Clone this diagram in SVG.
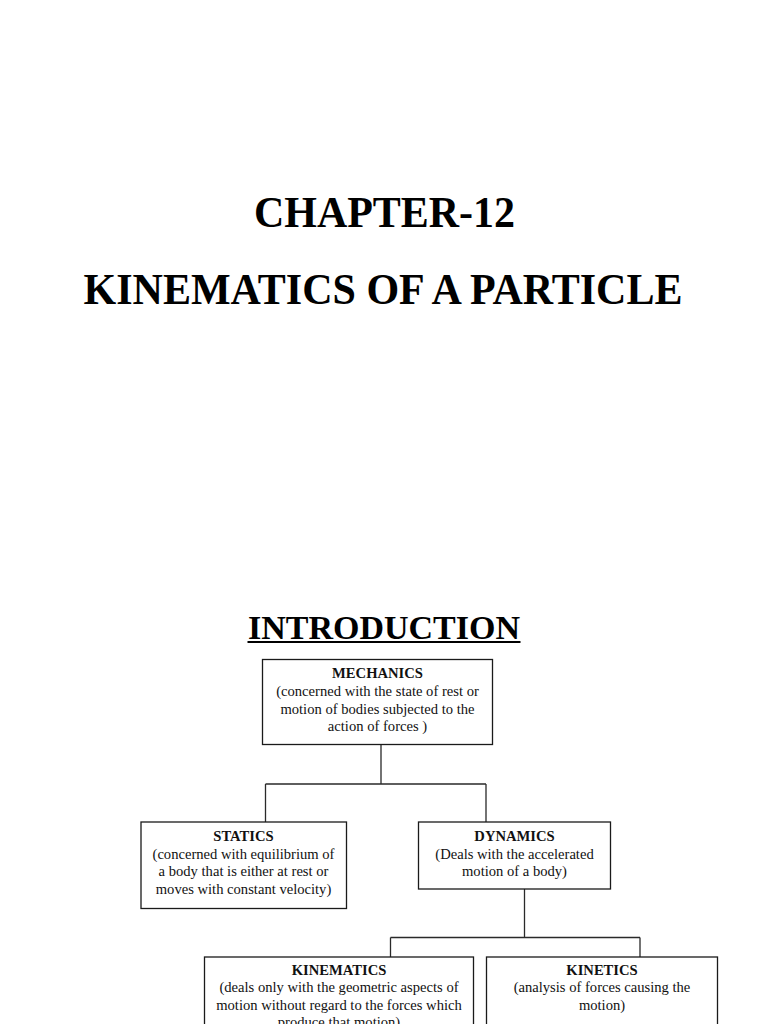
<svg xmlns="http://www.w3.org/2000/svg" width="768" height="1024" viewBox="0 0 768 1024">
<style>
.t{font-family:"Liberation Serif","Times New Roman",serif;font-weight:bold;fill:#000;text-anchor:middle}
.box{fill:#fff;stroke:#1a1a1a;stroke-width:1.3}
.h{font-family:"Liberation Serif","Times New Roman",serif;font-weight:bold;font-size:14.6px;fill:#111;text-anchor:middle}
.b{font-family:"Liberation Serif","Times New Roman",serif;font-size:14.6px;fill:#111;text-anchor:middle}
.c{fill:none;stroke:#2a2a2a;stroke-width:1.3}
</style>
<rect width="768" height="1024" fill="#fff"/>
<text class="t" x="384.5" y="226.5" font-size="45" textLength="261" lengthAdjust="spacingAndGlyphs">CHAPTER-12</text>
<text class="t" x="383" y="303.5" font-size="45" textLength="599" lengthAdjust="spacingAndGlyphs">KINEMATICS OF A PARTICLE</text>
<text class="t" x="384" y="638.5" font-size="34" textLength="272" lengthAdjust="spacingAndGlyphs">INTRODUCTION</text>
<rect x="247.5" y="641" width="273" height="2" fill="#000"/>
<g id="connectors">
<path class="c" d="M381,744 V784 M265.5,784 H486 M265.5,784 V822 M486,784 V822"/>
<path class="c" d="M524.5,889 V937.5 M390.5,937.5 H640 M390.5,937.5 V957 M640,937.5 V957"/>
</g>
<g id="mechanics">
<rect class="box" x="262.5" y="659.5" width="230" height="85"/>
<text class="h" x="377.5" y="677.5">MECHANICS</text>
<text class="b" x="377.5" y="695.5">(concerned with the state of rest or</text>
<text class="b" x="377.5" y="713.5">motion of bodies subjected to the</text>
<text class="b" x="377.5" y="731">action of forces )</text>
</g>
<g id="statics">
<rect class="box" x="141" y="822" width="205.5" height="86.5"/>
<text class="h" x="243.5" y="840.5">STATICS</text>
<text class="b" x="243.5" y="858.5">(concerned with equilibrium of</text>
<text class="b" x="243.5" y="876">a body that is either at rest or</text>
<text class="b" x="243.5" y="893.5">moves with constant velocity)</text>
</g>
<g id="dynamics">
<rect class="box" x="418.5" y="822" width="192" height="67"/>
<text class="h" x="514.5" y="840.5">DYNAMICS</text>
<text class="b" x="514.5" y="858.5">(Deals with the accelerated</text>
<text class="b" x="514.5" y="876">motion of a body)</text>
</g>
<g id="kinematics">
<rect class="box" x="204.5" y="957" width="269" height="90"/>
<text class="h" x="339" y="974.5">KINEMATICS</text>
<text class="b" x="339" y="992">(deals only with the geometric aspects of</text>
<text class="b" x="339" y="1009.5">motion without regard to the forces which</text>
<text class="b" x="339" y="1027">produce that motion)</text>
</g>
<g id="kinetics">
<rect class="box" x="486.5" y="957" width="231" height="90"/>
<text class="h" x="602" y="974.5">KINETICS</text>
<text class="b" x="602" y="992">(analysis of forces causing the</text>
<text class="b" x="602" y="1009.5">motion)</text>
</g>
</svg>
